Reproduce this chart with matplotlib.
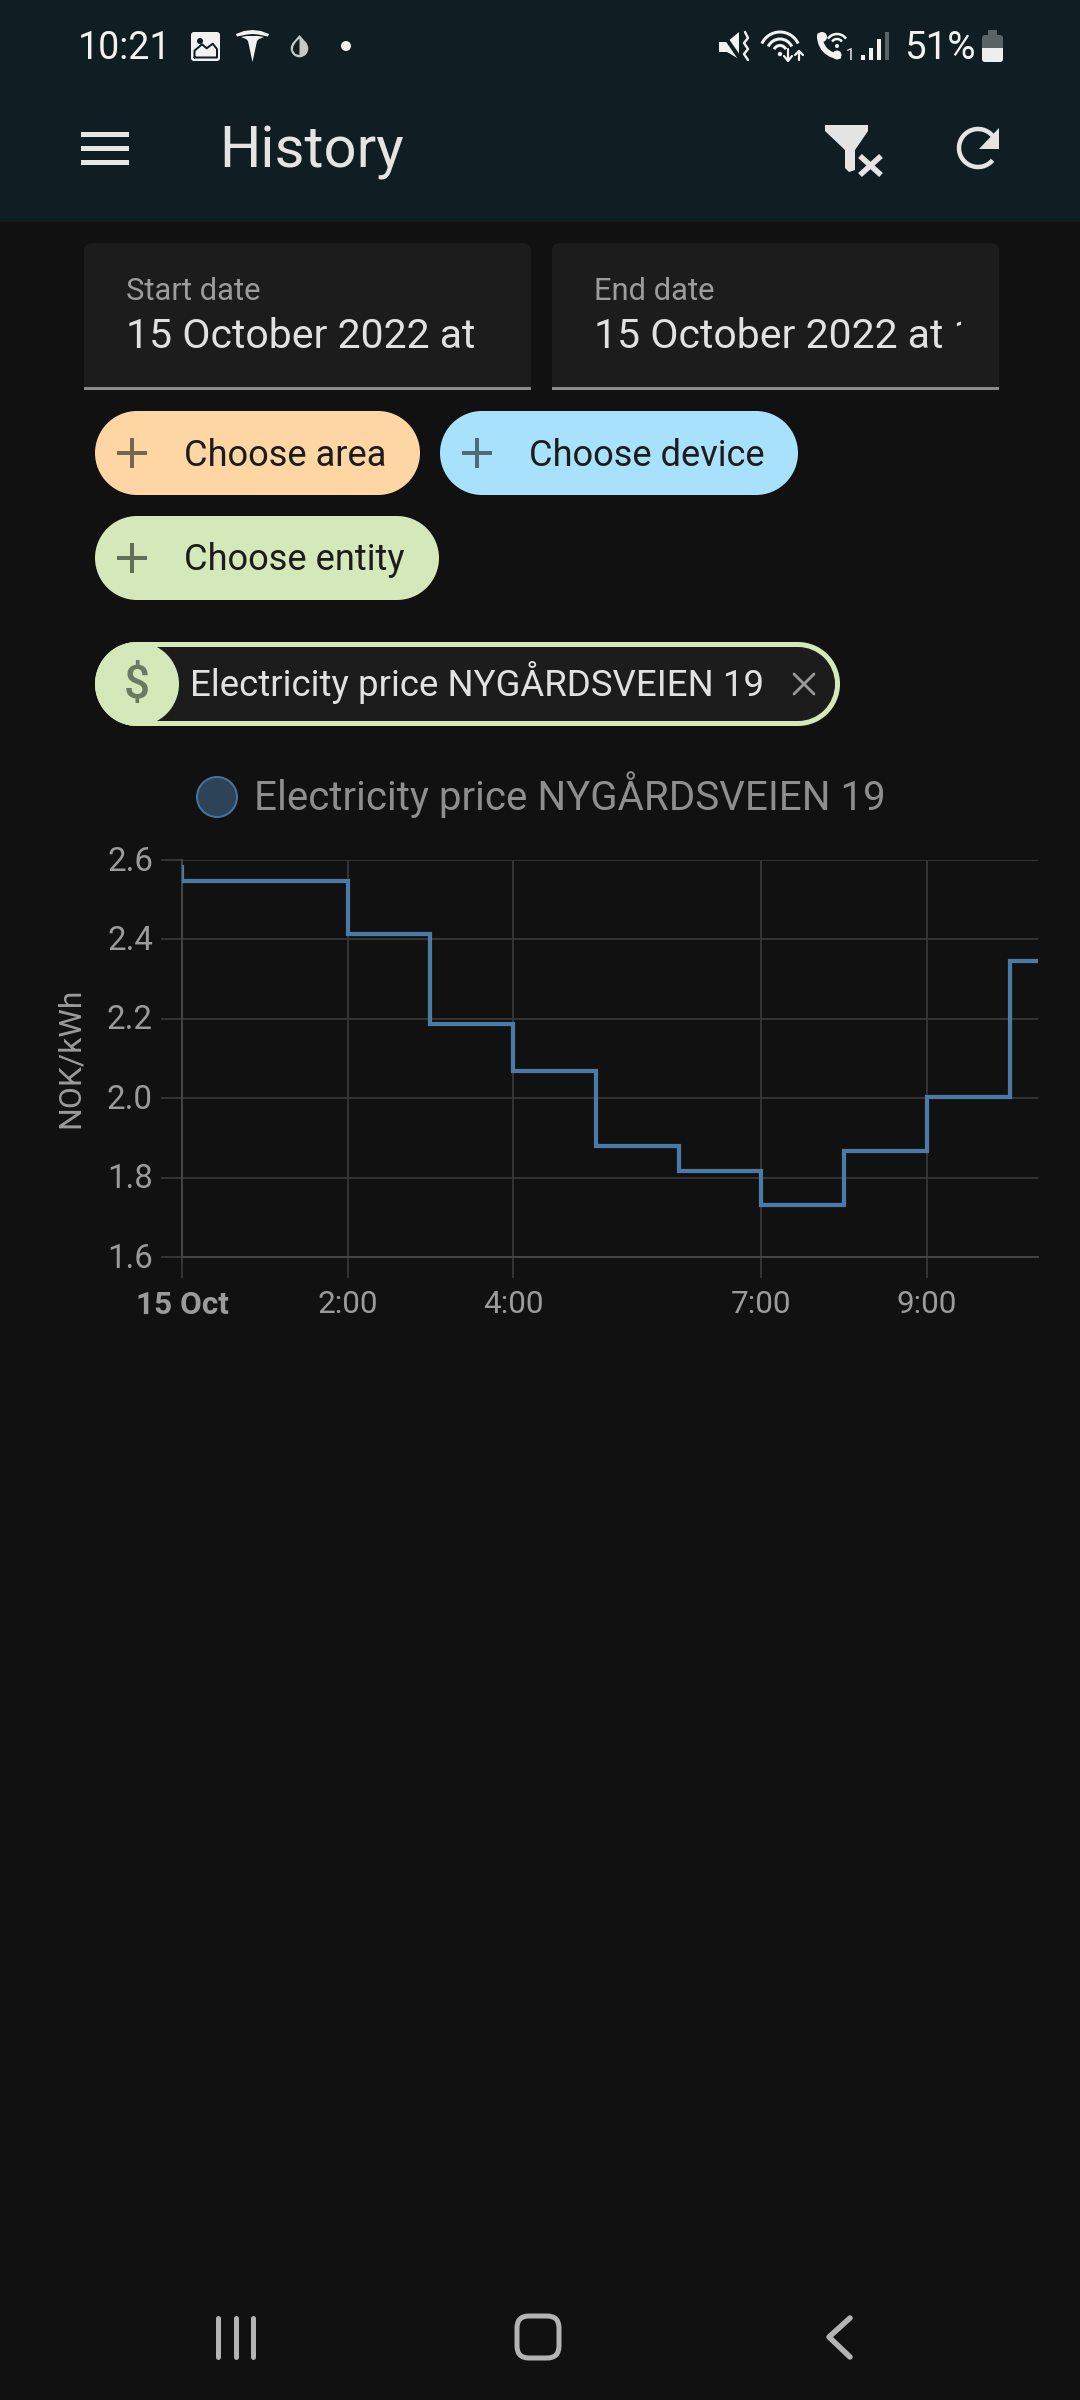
import matplotlib
matplotlib.use("Agg")
import matplotlib.pyplot as plt
from matplotlib.patches import FancyBboxPatch, Rectangle, Circle, Polygon, Arc
from matplotlib.transforms import ScaledTranslation

# ---- chart data ----
hours = [0, 0, 2, 3, 4, 5, 6, 7, 8, 9, 10, 10.34]
prices = [2.582, 2.548, 2.413, 2.187, 2.068, 1.879, 1.817, 1.731, 1.868, 2.004, 2.345, 2.345]
y_ticks = [1.6, 1.8, 2.0, 2.2, 2.4, 2.6]
x_tick_hours = [0, 2, 4, 7, 9]
x_tick_labels = ["15 Oct", "2:00", "4:00", "7:00", "9:00"]
series_name = "Electricity price NYGÅRDSVEIEN 19"
y_unit = "NOK/kWh"

BG = "#111111"
HEADER = "#101e24"
CARD = "#1c1c1c"
FG = "#e1e1e1"
GREY = "#9b9b9b"
LINE = "#4a7aa5"
GRID = "#333333"
WHITE = "#f2f2f2"
W, H = 1080, 2400
plt.rcParams["font.family"] = ["Roboto", "DejaVu Sans"]


def fs(px):
    return px * 0.72


fig = plt.figure(figsize=(W / 100, H / 100), dpi=100, facecolor=BG)
ui = fig.add_axes([0, 0, 1, 1])
ui.set_xlim(0, W)
ui.set_ylim(H, 0)
ui.axis("off")


def rrect(x0, y0, x1, y1, r, color, z=1, **kw):
    p = FancyBboxPatch((x0, y0), x1 - x0, y1 - y0, boxstyle=f"round,pad=0,rounding_size={r}",
                       facecolor=color, edgecolor="none", zorder=z, **kw)
    ui.add_patch(p)
    return p


def rect(x0, y0, x1, y1, color, z=1):
    ui.add_patch(Rectangle((x0, y0), x1 - x0, y1 - y0, facecolor=color, edgecolor="none", zorder=z))


def pill(x0, y0, x1, y1, color, z=1):
    r = (y1 - y0) / 2
    rect(x0 + r, y0, x1 - r, y1, color, z)
    ui.add_patch(Circle((x0 + r, y0 + r), r, facecolor=color, edgecolor="none", zorder=z))
    ui.add_patch(Circle((x1 - r, y0 + r), r, facecolor=color, edgecolor="none", zorder=z))


def line(xs, ys, color, px, z=3, cap="round"):
    ui.plot(xs, ys, color=color, lw=fs(px), solid_capstyle=cap, solid_joinstyle="round", zorder=z)


def poly(pts, color, z=3):
    ui.add_patch(Polygon(pts, facecolor=color, edgecolor="none", zorder=z))


def arc(c, r, t1, t2, color, px, z=3):
    ui.add_patch(Arc(c, 2 * r, 2 * r, theta1=t1, theta2=t2, color=color, lw=fs(px), zorder=z))


def text(x, y, s, px, color, ha="left", va="baseline", weight="normal", z=4, **kw):
    return ui.text(x, y, s, fontsize=fs(px), color=color, ha=ha, va=va, fontweight=weight,
                   zorder=z, parse_math=False, **kw)


# ---- header ----
rect(0, 0, W, 222, HEADER)
text(78, 59, "10:21", 37.5, WHITE)
text(904, 59, "51%", 38.5, WHITE)
text(219, 167, "History", 58, "#e4e4e4")

# picture icon
rrect(191, 32, 220, 61, 3, WHITE, z=3)
ui.add_patch(Circle((200, 41), 3, facecolor=HEADER, zorder=4))
line([194.5, 194.5, 202, 206.7, 212.7, 217, 217, 194.5], [57.5, 50.7, 44.3, 48.3, 43.7, 49, 57.5, 57.5], HEADER, 2, z=4)
# Tesla mark
poly([(236, 34), (244, 31), (252.5, 30), (261, 31), (269, 34), (268, 36.5), (258, 34.5), (252.5, 34), (247, 34.5), (237, 36.5)], WHITE)
poly([(241, 37), (247, 36), (258, 36), (264, 37), (259, 39), (257, 41), (254, 55), (252.5, 62), (251, 55), (248, 41), (246, 39)], WHITE)
# drop icon
ui.add_patch(Circle((299.5, 48.5), 8.8, facecolor="#c4c8c8", zorder=3))
poly([(299.5, 35), (306.5, 43), (292.5, 43)], "#c4c8c8")
poly([(299.5, 38.5), (299.5, 55), (295.5, 54), (292.8, 50), (293.5, 46), (296, 42)], HEADER, z=4)
ui.add_patch(Circle((346, 46), 5, facecolor=WHITE, zorder=3))

# mute icon
poly([(719, 42), (727, 42), (739, 32), (739, 59), (727, 52), (719, 52)], WHITE)
line([721, 741], [31, 60], HEADER, 4, z=4, cap="butt")
line([745, 748, 744, 748, 744, 748], [32, 38, 43, 49, 54, 60], WHITE, 2.4)
# wifi icon
for r in (20, 13, 6.5):
    arc((780, 52), r, 205, 335, WHITE, 3)
ui.add_patch(Circle((780, 54), 2.2, facecolor=WHITE, zorder=3))
line([788, 788], [49, 61], WHITE, 2.2)
line([784, 788, 792], [56, 61, 56], WHITE, 2.2)
line([799, 799], [51, 60], WHITE, 2.2)
line([795, 799, 803], [55, 51, 55], WHITE, 2.2)
# call icon
arc((839, 37), 19, 85, 190, WHITE, 5.5)
ui.add_patch(Circle((822, 37), 5, facecolor=WHITE, zorder=3))
ui.add_patch(Circle((837, 55), 4.5, facecolor=WHITE, zorder=3))
arc((837, 45), 11, 215, 325, WHITE, 2.5)
arc((837, 45), 6, 215, 325, WHITE, 2.5)
ui.add_patch(Circle((837, 46), 2, facecolor=WHITE, zorder=3))
text(846, 59.5, "1", 16, WHITE)
# signal bars
for x, top, c in [(861, 55, WHITE), (869, 48, WHITE), (877, 39, WHITE), (885, 32, "#5a6468")]:
    rect(x, top, x + 4, 60, c, z=3)
# battery
rrect(982, 35, 1003, 62, 3, "#5a6468", z=3)
rect(988, 30, 997, 37, "#5a6468", z=3)
rrect(982, 48, 1003, 62, 3, "#eeeeee", z=4)
rect(982, 48, 1003, 54, "#eeeeee", z=4)

# hamburger
for y in (134.5, 148.5, 162.5):
    rect(81, y - 2.5, 129, y + 2.5, "#e6e6e6", z=3)
# filter-off icon
poly([(825, 125), (868, 125), (868, 131), (855, 150), (855, 170), (849, 172), (845, 168), (845, 150), (825, 131)], "#e4e4e4")
line([860, 881], [156, 175], "#e4e4e4", 5.5, cap="butt")
line([881, 860], [156, 175], "#e4e4e4", 5.5, cap="butt")
# refresh icon
arc((978, 148), 19, 40, 340, "#e4e4e4", 4.5)
poly([(999, 128), (999, 149), (979, 149)], "#e4e4e4", z=4)

# ---- date cards ----
for x0, x1, tx, lab in [(84, 531, 126, "Start date"), (552, 999, 594, "End date")]:
    rrect(x0, 243, x1, 300, 8, CARD)
    rect(x0, 270, x1, 389, CARD)
    rect(x0, 387, x1, 390, "#8a8a8a", z=2)
    text(tx, 300, lab, 31, "#9c9c9c")
text(126, 348, "15 October 2022 at", 41, FG)
t = text(594, 348, "15 October 2022 at 10:21", 41, FG)
clip = Rectangle((590, 300), 371, 70, transform=ui.transData)
t.set_clip_on(True)
t.set_clip_path(clip)

# ---- chips ----
chips = [
    (95, 420, 411, 495, "#fed6a4", "#76664f", 132, 185, "Choose area"),
    (440, 798, 411, 495, "#a8e1fb", "#4f6b78", 477, 530, "Choose device"),
    (95, 439, 516, 600, "#d4e8ba", "#62705a", 132, 185, "Choose entity"),
]
for x0, x1, y0, y1, col, pc, px_, tx, s in chips:
    pill(x0, y0, x1, y1, col)
    yc = (y0 + y1) / 2
    line([px_ - 15, px_ + 15], [yc, yc], pc, 4, cap="butt")
    line([px_, px_], [yc - 15, yc + 15], pc, 4, cap="butt")
    text(tx - 1, yc + 12.5, s, 36.3, "#1c1c1c")

# selected chip
pill(95, 642, 840, 726, "#d4e8ba")
pill(100, 647, 835, 721, CARD, z=2)
ui.add_patch(Circle((137, 684), 42, facecolor="#d4e8ba", edgecolor="none", zorder=3))
text(137, 685, "$", 46, "#6a7a62", ha="center", va="center", weight="medium")
text(190, 696, series_name, 36.6, FG)
line([794, 814], [674, 694], "#9a9a9a", 2.8)
line([814, 794], [674, 694], "#9a9a9a", 2.8)

# ---- legend ----
ui.add_patch(Circle((217, 797), 20, facecolor="#2d4358", edgecolor="#44739e", lw=fs(2), zorder=3))
text(254, 810, series_name, 40.3, "#8e8e8e")

# ---- chart ----
x_left, x_right, y_top, y_bottom = 182, 1038, 860, 1257
ax = fig.add_axes([x_left / W, 1 - y_bottom / H, (x_right - x_left) / W, (y_bottom - y_top) / H])
ax.set_facecolor("none")
ax.set_xlim(0, (x_right - x_left) / 82.75)
ax.set_ylim(1.6, 2.6)
ax.set_yticks(y_ticks)
ax.set_yticklabels([f"{v:.1f}" for v in y_ticks])
ax.set_xticks(x_tick_hours)
ax.set_xticklabels(x_tick_labels)
ax.grid(True, color=GRID, lw=fs(2))
ax.set_axisbelow(True)
for name, sp in ax.spines.items():
    sp.set_visible(name in ("left", "bottom"))
    sp.set_color("#444444")
    sp.set_linewidth(fs(2))
ax.tick_params(axis="x", length=fs(21), width=fs(2), color=GRID, labelsize=fs(31.5), labelcolor=GREY, pad=fs(12))
ax.tick_params(axis="y", length=fs(21), width=fs(2), color=GRID, labelsize=fs(33), labelcolor=GREY, pad=fs(8))
ax.get_xticklabels()[0].set_fontweight("bold")
for lab in ax.get_yticklabels():
    lab.set_transform(lab.get_transform() + ScaledTranslation(0, 2 / 100, fig.dpi_scale_trans))
ax.step(hours, prices, where="post", color=LINE, lw=fs(4.2), solid_joinstyle="miter", zorder=3)
ylab = ax.set_ylabel(y_unit, fontsize=fs(32), color=GREY, va="center")
ax.yaxis.set_label_coords((70 - x_left) / (x_right - x_left), 0.5 - (1058 - (y_top + y_bottom) / 2) / (y_bottom - y_top))

# ---- bottom nav ----
NAV = "#b4b4b4"
for x in (218, 235.5, 252.5):
    line([x, x], [2318, 2357], NAV, 5)
rrect(517, 2316, 559, 2358, 12, "none", z=3).set(edgecolor=NAV, linewidth=fs(5))
line([850, 829, 850], [2318, 2337, 2357], NAV, 5.5)

fig.savefig("out.png", dpi=100, facecolor=BG)
